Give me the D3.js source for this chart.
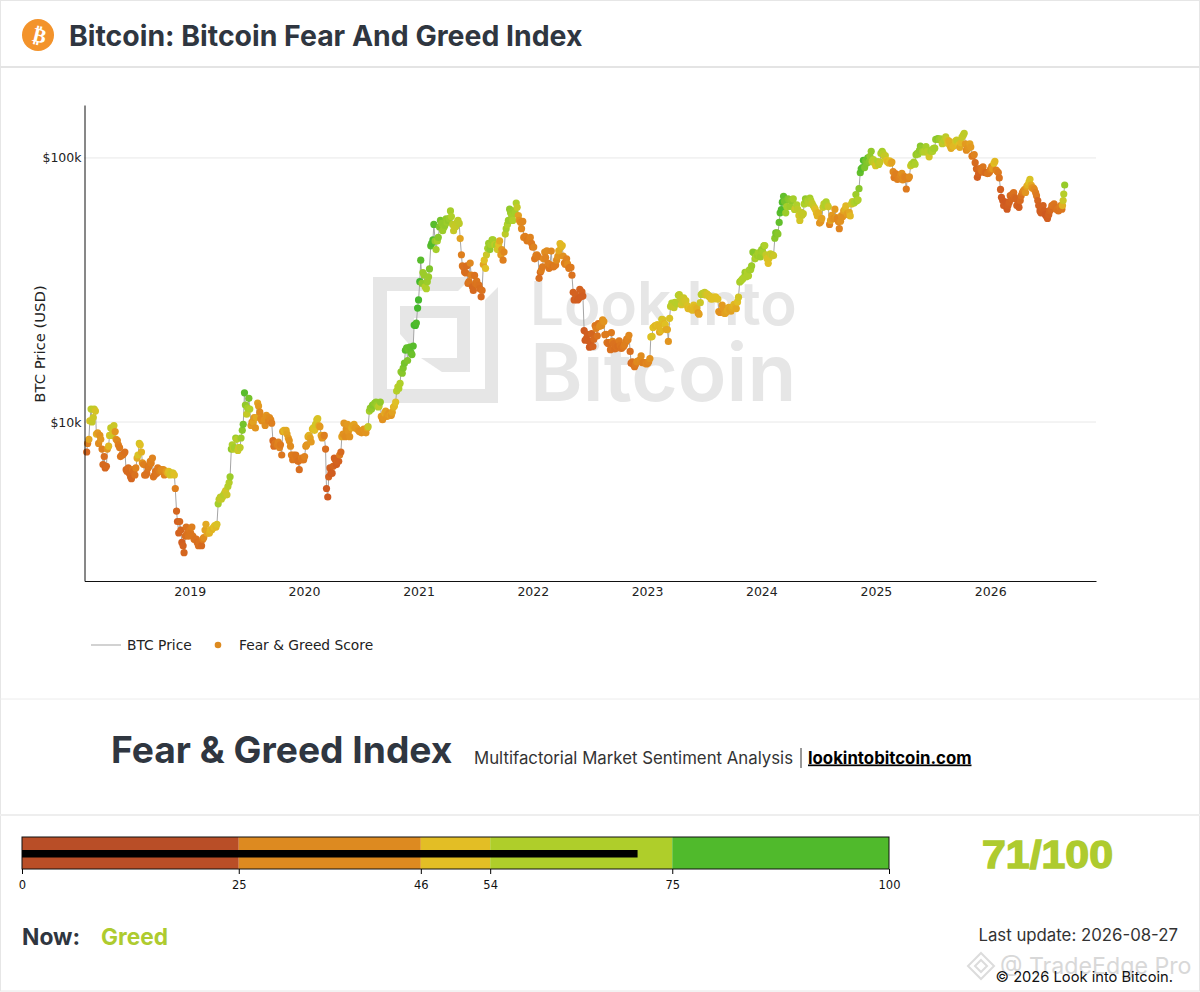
<!DOCTYPE html>
<html>
<head>
<meta charset="utf-8">
<title>Bitcoin Fear And Greed Index</title>
<script src="https://cdn.jsdelivr.net/npm/d3@7"></script>
<style>
  html, body { margin: 0; padding: 0; background: #fff; }
  svg { display: block; }
  .ui { font-family: Inter, "Noto Sans", sans-serif; }
  .plot text { font-family: "DejaVu Sans", sans-serif; font-size: 12.5px; fill: #222; }
</style>
</head>
<body>
<svg id="chart" width="1200" height="992"></svg>
<script>
// readings, BTC price in $k, one per Tuesday
const price2018 = [7.7,8.6,11.2,10.4, 11.0,9.1,8.9,7.9, 7.4,6.8,8.1,9.5, 9.2,9.2,8.5,8.0,7.5, 7.6,6.6,6.7,6.2, 6.6,6.3,7.3,8.3,7.7, 6.9,6.3,6.7,7.1, 7.3,6.3,6.4,6.6, 6.6,6.6,6.5,6.4,6.3, 6.4,6.3,4.6,3.8, 3.9,3.4,3.7,3.8];
const price2019 = [3.9,4.0,3.6,3.6,3.4, 3.5,3.6,3.9,3.8, 3.8,3.9,4.0,4.0, 4.9,5.2,5.2,5.4,5.3, 5.9,7.9,7.9,8.7, 7.8,8.0,9.3,12.9, 10.7,12.3,9.7,10.0,9.5, 11.8,10.9,10.1,10.2, 10.6,10.1,10.2,8.5, 8.3,8.2,8.0,7.5,9.3, 9.3,8.7,8.1,7.2, 7.3,7.2,6.6,7.3,7.2];
const price2020 = [8.1,8.8,8.7,9.4, 9.3,10.2,9.7,8.9, 8.8,7.9,5.2,6.7,6.4, 7.3,6.9,7.1,7.7, 9.0,8.8,9.8,8.8, 9.5,9.8,9.5,9.3,9.2, 9.3,9.2,9.5,11.0, 11.2,11.6,11.9,11.4, 11.9,10.2,10.8,10.5,10.8, 10.6,11.4,11.9,13.6, 14.0,15.3,16.7,19.1, 18.8,18.3,19.4,23.2,27.0];
const price2021 = [34,33.5,36,32, 35.5,46.5,49,48.5, 48.5,54.8,56.5,54.5,58.8, 58,63,56,54.8, 57,56.5,43,38.5, 36.7,33.5,40,32.5,35.9, 34.2,33,29.8,39.5, 38.2,45.5,45,49,47, 46.8,47,43,41, 51.5,56,64,60.5, 63,67.5,60.5,57,57.5, 50.5,48.5,49,47.5];
const price2022 = [46,42.7,42.3,36.9, 38.7,44,44.5,38.2, 44.4,38.7,39.3,42.4,47.4, 46.6,40,41.5,38.2, 38.5,31,30.4,29,31.8, 31.1,22.2,20.7,20.3, 20.2,19.3,23.2,21.2, 23,23.2,24,21.5,19.8, 18.8,20.2,18.9,19.1, 20.3,19,19.3,20.1, 20.5,18.5,16.9,16.2,16.9, 17,17.8,16.8,16.7];
const price2023 = [16.7,17.4,21.1,23,23.1, 23.2,22.2,24.4,23.4, 22.4,24.7,28.2,27.1, 28.2,30.2,29.4,28.3, 28.7,27.6,27,26.8,27.7, 27.2,25.9,28.3,30.7, 31,30.6,29.9,29.2, 29.7,29.8,29.2,26,27.7, 25.8,26.2,27.2,26.3, 27.4,27.4,28.5,33.9,34.6, 35.4,35.5,35.8,37.8, 44,41.5,42.8,42.5];
const price2024 = [45,46.5,43,39.9,43.3, 43,49.7,52,57, 63.8,71.5,62,70, 65.5,69,63.8,66.5,60.6, 62.3,61.5,70,68.5, 70.5,67.3,65,61.9, 62,57.5,65,66,66.2, 56,60.6,59,59.5, 57.5,57.6,60,64, 61.5,62.2,67,67.4,72.7, 69.4,87.9,92,92, 95.8,96.6,106,98.6,93.5];
const price2025 = [96.9,96.5,106,101.3, 98,95.8,95.5,88.7, 87,82.9,84,87.5, 85.2,76.3,83.7,93.4,94.9, 94.7,104,106.8,108.9, 105.4,110.3,104.6,106, 105.7,108.9,117.7,117.4,117.9, 114.2,120.2,113.5,111.2, 111.3,111.5,116.8,112,114, 122,113,108.3,113, 101.6,103,91,87.3, 91.3,92.5,87.9,87.3,88.4];
const price2026 = [93,95.5,90,88, 76,69,67,64, 68,70,74,70,67, 69,74,76,78, 81,79,77,74, 69,63,65,63,60, 61,64,66,65, 64,65,64];

const score2018 = [18,45,62,58, 55,42,38,30, 22,20,50,60, 55,40,34,28,24, 26,20,22,20, 28,24,46,56,48, 30,24,26,30, 32,24,26,28, 34,36,38,48,55, 58,52,18,16, 18,16,22,24];
const score2019 = [28,30,26,24,22, 24,30,44,46, 48,50,52,50, 68,62,60,62,58, 64,72,62,70, 58,62,74,84, 60,78,42,44,40, 44,34,36,38, 40,32,34,20, 28,30,32,26,48, 46,42,36,26, 28,26,22,30,28];
const score2020 = [38,46,44,50, 52,56,46,44, 38,22,12,14,14, 16,14,16,20, 38,36,42,38, 46,44,42,40,38, 38,40,44,68, 72,74,72,66, 72,38,46,40,40, 40,48,52,62, 66,74,78,82, 80,82,84,88,90];
const score2021 = [88,72,70,66, 70,84,86,72, 68,76,72,70,72, 72,68,62,58, 60,62,30,24, 22,24,34,20,24, 26,24,20,44, 52,68,72,70,66, 68,52,42,30, 62,66,72,68, 70,66,44,36,34, 30,28,30,28];
const score2022 = [32,28,28,22, 28,36,36,26, 34,26,28,40,50, 50,30,32,28, 28,16,16,14,16, 16,12,14,14, 14,16,26,24, 34,36,40,28,24, 24,30,22,24, 28,24,28,30, 32,22,24,26,34, 34,36,30,32];
const score2023 = [32,38,54,52,50, 50,50,54,52, 46,54,64,60, 62,66,60,58, 56,54,52,50,52, 50,42,58,64, 60,56,54,52, 52,52,52,38,42, 42,44,46,44, 48,48,52,66,66, 66,66,66,68, 72,68,70,68];
const score2024 = [70,72,60,52,60, 62,74,76,82, 86,82,70,76, 70,72,64,66,56, 60,60,72,66, 68,60,58,50, 48,40,60,66,64, 32,42,38,42, 34,38,38,48, 44,46,56,62,70, 66,82,84,76, 76,74,72,64,56];
const score2025 = [66,60,68,58, 52,50,46,34, 32,30,32,38, 34,28,32,58,66, 66,72,72,72, 66,68,62,66, 66,68,72,70,68, 60,62,52,48, 48,50,58,52,50, 60,42,38,44, 30,32,18,16, 22,26,22,24,26];
const score2026 = [34,52,30,28, 14,12,14,12, 16,18,24,18,16, 20,28,36,44, 52,46,38,30, 18,14,16,14,12, 16,20,26,24, 26,28,26];

// second reading in each week, on the Friday
const midPrice2018 = [8.3,10.1,10.0,11.2, 9.0,8.3,8.6,6.9, 6.7,7.9,8.9,8.9, 9.7,8.6,8.2,7.4,7.5, 7.7,6.5,6.4,6.1, 6.5,6.7,7.5,8.2,7.0, 6.3,6.4,6.8,7.0, 6.2,6.5,6.7,6.5, 6.5,6.3,6.5,6.5,6.4, 6.4,5.6,4.2,4.2, 3.5,3.2,4.0,3.7];
const midPrice2019 = [3.8,3.7,3.6,3.5,3.5, 3.4,3.65,4.1,3.8, 3.9,3.95,4.05,4.1, 5.1,5.1,5.3,5.5,5.7, 6.2,8.2,8.0,8.6, 8.0,8.7,9.8,11.6, 11.3,11.2,10.0,10.4,10.4, 11.5,10.3,10.4,9.7, 10.4,10.4,9.9,8.1, 8.2,8.4,8.2,9.2,9.2, 9.0,8.5,7.5,7.5, 7.5,7.1,7.2,7.2,7.4];
const midPrice2020 = [8.2,8.9,8.4,9.5, 9.8,10.3,9.6,8.7, 8.9,5.6,6.2,6.4,6.8, 7.2,7.1,7.5,8.8, 9.9,9.4,9.2,9.6, 9.7,9.5,9.4,9.2,9.1, 9.4,9.1,9.6,11.3, 11.6,11.8,11.6,11.5, 10.5,10.4,11.0,10.7,10.6, 10.9,11.5,13.1,13.4, 15.5,16.0,18.7,17.1, 19.2,18.0,23.3,23.7,29.0];
const midPrice2021 = [41,36.8,32.5,34, 38,47.5,56,45, 50,58,53,55.5,57, 59,60,53,55, 58,49.5,39,37, 39,34,36,31.5,33.5, 33,32,31.5,41, 43,47.5,47,49,47, 45,48.5,45,44, 54,58,62,58, 62,65,58,54,50, 49.5,49,50,46];
const midPrice2022 = [41.5,43,35,37.5, 41.5,42,40,39.5, 39,39,41,44.5,46, 42.5,39.5,39.7,38.5, 36,29,29.2,29.3,29.8, 30,20.4,21.5,19.2, 21.6,20.6,22.6,23.6, 23.3,24.4,21.4,20,20, 21.8,19.8,19.4,19.4, 19.5,19.2,19.6,20.6, 21.3,16.7,16.5,16.5,17, 17.2,16.8,16.8,16.6];
const midPrice2023 = [16.9,21,22.8,23.2,23.4, 21.9,24.5,23.6,22.4, 20.2,27.4,27.5,28.4, 28,30.4,27.8,29.5, 28.8,26.9,26.8,26.5,27.2, 26.9,25.6,30.4,30.5, 30.3,30.3,29.9,29.3, 29.3,29.4,26.2,26.1,27, 25.8,26.5,26.6,27, 27.9,26.9,29.7,34.2,34.9, 36.9,37,37.7,39, 43.8,42.3,43.7,42.2];
const midPrice2024 = [44,46.6,41.6,41.8,43, 42.7,52,51.5,62, 68,68.4,65.5,69.5, 69,70,64.5,64,58, 60.7,67,69,67.5, 68.9,66.2,64,60.3, 56.7,59,67,68.2,65.3, 58,58.9,64,59, 54,60.5,63,65.8, 61,60.3,68.4,68,68.8, 76.5,91,98,97.5, 100,101.4,97,95.8,94.2];
const midPrice2025 = [94.5,104,104,102, 96.6,97.5,96.5,84.3, 86.8,84,86,82.5, 84.5,83.5,84.9,94.8,96.5, 102.9,103.5,111,105.6, 105.6,105.8,101,107, 108.8,117.5,118.5,117.8,113.3, 116.5,117.4,116.2,108.8, 110.7,115.9,115.7,109.7,120, 124,107,110,110, 102,96,84.5,91, 89.3,88.2,88.1,87.5,90.5];
const midPrice2026 = [91,97,89,84, 71,66,68,66, 72,73,71,66,65, 72,75,74,79, 83,77,76,72, 66,62,66,61,59, 63,66,67,64, 63,66];

const midScore2018 = [30,55,60,60, 48,36,40,20, 18,40,55,58, 58,38,30,26,26, 24,20,20,18, 22,32,54,52,38, 26,24,28,30, 26,24,28,30, 34,32,42,52,56, 54,30,14,18, 14,18,24,26];
const midScore2019 = [26,26,24,22,24, 20,36,46,44, 50,48,52,54, 62,60,64,56,64, 70,66,68,64, 56,70,78,72, 68,66,36,42,46, 42,36,34,36, 38,36,30,22, 26,32,28,44,50, 44,38,30,28, 26,24,24,28,32];
const midScore2020 = [40,48,42,54, 56,54,42,40, 30,10,16,12,18, 16,18,28,44, 40,38,40,42, 44,42,42,38,38, 40,40,60,72, 74,72,70,62, 42,40,44,42,44, 44,50,64,66, 72,76,84,76, 82,80,88,86,92];
const midScore2021 = [84,70,64,70, 76,86,84,68, 74,78,70,72,70, 70,66,60,60, 62,44,26,22, 22,26,30,20,24, 26,22,24,52, 58,70,68,68,62, 56,46,40,34, 68,70,70,66, 68,60,40,34,32, 30,28,32,26];
const midScore2022 = [26,30,22,30, 34,32,30,30, 28,28,36,46,48, 38,30,36,28, 24,14,16,14,14, 14,12,14,12, 18,20,30,26, 36,38,26,26,22, 28,24,24,22, 26,24,30,30, 34,20,24,28,36, 36,34,30,34];
const midScore2023 = [34,52,52,50,52, 44,56,50,46, 40,62,60,64, 64,62,54,58, 56,50,50,50,50, 48,44,62,62, 58,54,54,52, 52,52,40,38,42, 44,46,44,46, 50,46,56,68,66, 70,66,68,70, 74,66,68,70];
const midScore2024 = [68,66,54,54,58, 58,78,74,84, 86,78,68,74, 72,68,58,62,56, 60,66,70,64, 66,60,52,48, 40,44,62,66,58, 44,40,42,34, 32,40,44,50, 42,50,60,66,68, 74,84,86,78, 80,72,62,60,54];
const midScore2025 = [62,66,64,60, 50,52,44,28, 30,30,34,36, 32,32,36,62,68, 70,70,74,68, 64,64,56,68, 68,72,74,70,62, 64,58,48,46, 50,54,60,46,60, 62,34,40,42, 26,20,14,20, 26,24,20,26,30];
const midScore2026 = [42,50,32,24, 12,14,12,14, 20,22,20,16,14, 24,32,40,48, 54,40,34,28, 16,14,16,12,14, 18,24,26,24, 24,30];

// last days before the update, the jump at the end is steeper than a week
const lastDays = ["2026-08-20", "2026-08-22", "2026-08-24", "2026-08-27"];
const lastPrice = [66, 69, 73, 79];
const lastScore = [48, 58, 64, 71];

const yearTicks = [2019, 2020, 2021, 2022, 2023, 2024, 2025, 2026];
const priceTicks = [10, 100];

const gaugeTicks = [0, 25, 46, 54, 75, 100];
const gaugeColors = ["#b94e27", "#dd8a20", "#e3be25", "#afce2a", "#50ba2c"];
const currentScore = 71;

const ink = "#2f3640";
const greedColor = "#aecb2f";

const parseDay = d3.utcParse("%Y-%m-%d");
const prices = [].concat(price2018, price2019, price2020, price2021, price2022, price2023, price2024, price2025, price2026);
const scores = [].concat(score2018, score2019, score2020, score2021, score2022, score2023, score2024, score2025, score2026);
const midPrices = [].concat(midPrice2018, midPrice2019, midPrice2020, midPrice2021, midPrice2022, midPrice2023, midPrice2024, midPrice2025, midPrice2026);
const midScores = [].concat(midScore2018, midScore2019, midScore2020, midScore2021, midScore2022, midScore2023, midScore2024, midScore2025, midScore2026);
const weeks = d3.utcDay.range(parseDay("2018-02-06"), parseDay("2026-08-19"), 7);

const points = weeks.map((d, i) => ({ date: d, price: prices[i], score: scores[i] }))
  .concat(midPrices.map((p, i) => ({ date: d3.utcDay.offset(weeks[i], 3), price: p, score: midScores[i] })))
  .concat(lastDays.map((d, i) => ({ date: parseDay(d), price: lastPrice[i], score: lastScore[i] })))
  .sort((a, b) => a.date - b.date);

const svg = d3.select("#chart");

// page frame and section dividers
svg.append("rect").attr("x", 0.5).attr("y", 0.5).attr("width", 1199).attr("height", 990.5)
  .attr("fill", "none").attr("stroke", "#e6e6e6");
[[67, 2, "#e4e4e4"], [699, 1, "#ececec"], [815, 2, "#eeeeee"]].forEach(([y, w, c]) => {
  svg.append("line").attr("x1", 0).attr("x2", 1200).attr("y1", y).attr("y2", y)
    .attr("stroke", c).attr("stroke-width", w);
});

// header
svg.append("circle").attr("cx", 38).attr("cy", 35).attr("r", 16).attr("fill", "#f3932b");
svg.append("text").attr("transform", "translate(38,42) rotate(14)").attr("text-anchor", "middle")
  .attr("font-family", "DejaVu Sans").attr("font-weight", "bold").attr("font-size", 20)
  .attr("fill", "#fff").text("₿");
svg.append("text").attr("class", "ui").attr("x", 69).attr("y", 46)
  .attr("font-size", 28.4).attr("font-weight", 700).attr("fill", ink)
  .text("Bitcoin: Bitcoin Fear And Greed Index");

// watermark behind the plot
const mark = svg.append("g").attr("fill", "#e6e6e6");
mark.append("path").attr("fill-rule", "evenodd")
  .attr("d", "M373,277H472L458,291H387V389H485V300L498,287V403H373Z");
mark.append("path")
  .attr("d", "M400,306H470V372H442L421,358H457V318H414V350L400,334Z");
mark.append("text").attr("class", "ui").attr("x", 530).attr("y", 325)
  .attr("font-size", 60).attr("font-weight", 600).text("Look Into");
mark.append("text").attr("class", "ui").attr("x", 530).attr("y", 401)
  .attr("font-size", 80).attr("font-weight", 600).text("Bitcoin");

// price chart
const x = d3.scaleUtc()
  .domain([parseDay("2018-01-30"), parseDay("2026-12-05")])
  .range([84.5, 1096]);
const y = d3.scaleLog()
  .domain([2.5, 158.7])
  .range([581, 105]);

const plot = svg.append("g").attr("class", "plot");

plot.selectAll(".grid").data(priceTicks).join("line")
  .attr("class", "grid")
  .attr("x1", 84).attr("x2", 1096)
  .attr("y1", d => y(d)).attr("y2", d => y(d))
  .attr("stroke", "#e8e8e8");

const priceLine = d3.line().x(d => x(d.date)).y(d => y(d.price));
plot.append("path").datum(points)
  .attr("d", priceLine)
  .attr("fill", "none").attr("stroke", "#a5a5a5").attr("stroke-width", 1);

const scoreColor = d3.scaleLinear()
  .domain([12, 28, 42, 52, 66, 88])
  .range(["#cf5a20", "#dd7a1e", "#e39a20", "#e0c024", "#afd02a", "#45b82c"])
  .clamp(true);

plot.selectAll(".dot").data(points).join("circle")
  .attr("class", "dot")
  .attr("cx", d => x(d.date))
  .attr("cy", d => y(d.price))
  .attr("r", 3.6)
  .attr("fill", d => scoreColor(d.score));

const xAxis = d3.axisBottom(x)
  .tickValues(yearTicks.map(d => new Date(Date.UTC(d, 0, 1))))
  .tickFormat(d3.utcFormat("%Y"))
  .tickSize(0)
  .tickPadding(6);
plot.append("g").attr("transform", "translate(0,581)").call(xAxis)
  .call(g => g.select(".domain").attr("stroke", "#111"));

const yAxis = d3.axisLeft(y)
  .tickValues(priceTicks)
  .tickFormat(d => `$${d}k`)
  .tickSize(0)
  .tickPadding(3);
plot.append("g").attr("transform", "translate(84.5,0)").call(yAxis)
  .call(g => g.select(".domain").attr("stroke", "#111"));

plot.append("text").attr("transform", "translate(45,344) rotate(-90)")
  .attr("text-anchor", "middle").style("font-size", "14.8px").text("BTC Price (USD)");

// legend
plot.append("line").attr("x1", 91).attr("x2", 121).attr("y1", 645).attr("y2", 645)
  .attr("stroke", "#a5a5a5");
plot.append("text").attr("x", 127).attr("y", 650).style("font-size", "13.8px").text("BTC Price");
plot.append("circle").attr("cx", 218).attr("cy", 645).attr("r", 3.3).attr("fill", "#dd8a20");
plot.append("text").attr("x", 239).attr("y", 650).style("font-size", "13.8px").text("Fear & Greed Score");

// title of the gauge block
svg.append("text").attr("class", "ui").attr("x", 111).attr("y", 763)
  .attr("font-size", 37.2).attr("font-weight", 700).attr("fill", ink).text("Fear & Greed Index");
svg.append("text").attr("class", "ui").attr("x", 474).attr("y", 763.5)
  .attr("font-size", 16.8).attr("fill", "#333").text("Multifactorial Market Sentiment Analysis");
svg.append("line").attr("x1", 801).attr("x2", 801).attr("y1", 748).attr("y2", 768).attr("stroke", "#333");
svg.append("text").attr("class", "ui").attr("x", 808).attr("y", 763.5)
  .attr("font-size", 16.8).attr("font-weight", 700).attr("fill", "#000")
  .attr("text-decoration", "underline").text("lookintobitcoin.com");

// gauge
const g = d3.scaleLinear().domain([0, 100]).range([22, 889]);
const gauge = svg.append("g");
gauge.selectAll("rect").data(d3.pairs(gaugeTicks)).join("rect")
  .attr("x", d => g(d[0]))
  .attr("y", 837)
  .attr("width", d => g(d[1]) - g(d[0]))
  .attr("height", 32)
  .attr("fill", (d, i) => gaugeColors[i]);
gauge.append("rect").attr("x", g(0)).attr("y", 837).attr("width", g(100) - g(0)).attr("height", 32)
  .attr("fill", "none").attr("stroke", "#111").attr("stroke-width", 1);
gauge.append("rect").attr("x", g(0)).attr("y", 850)
  .attr("width", g(currentScore) - g(0)).attr("height", 7.5).attr("fill", "#000");

const gaugeAxis = d3.axisBottom(g).tickValues(gaugeTicks).tickSize(5).tickPadding(7);
gauge.append("g").attr("transform", "translate(0,869)").call(gaugeAxis)
  .call(s => s.select(".domain").remove())
  .call(s => s.selectAll("text").attr("font-family", "DejaVu Sans").attr("font-size", 11.5).attr("fill", "#111"));

svg.append("text").attr("x", 982).attr("y", 868)
  .attr("font-family", "Liberation Sans").attr("font-weight", "bold").attr("font-size", 38)
  .attr("textLength", 131).attr("lengthAdjust", "spacingAndGlyphs")
  .attr("fill", greedColor).attr("stroke", greedColor).attr("stroke-width", 1.4)
  .text(`${currentScore}/100`);

// footer
svg.append("text").attr("class", "ui").attr("x", 22).attr("y", 945)
  .attr("font-size", 22.8).attr("font-weight", 700).attr("fill", ink).text("Now:");
svg.append("text").attr("class", "ui").attr("x", 101).attr("y", 945)
  .attr("font-size", 22.7).attr("font-weight", 700).attr("fill", greedColor).text("Greed");
svg.append("text").attr("class", "ui").attr("x", 1178).attr("y", 941).attr("text-anchor", "end")
  .attr("font-size", 16.8).attr("fill", "#333").text("Last update: 2026-08-27");

// TradeEdge watermark sits under the copyright line
const stamp = svg.append("g").attr("fill", "none").attr("stroke", "#dcdcdc").attr("stroke-width", 2);
stamp.append("path").attr("d", "M981,953L994,966L981,979L968,966Z");
stamp.append("path").attr("d", "M981,960L987,966L981,972L975,966Z");
svg.append("text").attr("class", "ui").attr("x", 1000).attr("y", 974)
  .attr("font-size", 23.2).attr("fill", "#d8d8d8").text("@ TradeEdge Pro");
svg.append("text").attr("class", "ui").attr("x", 1173).attr("y", 981.5).attr("text-anchor", "end")
  .attr("font-size", 14.7).attr("fill", "#111").text("© 2026 Look into Bitcoin.");
</script>
</body>
</html>
